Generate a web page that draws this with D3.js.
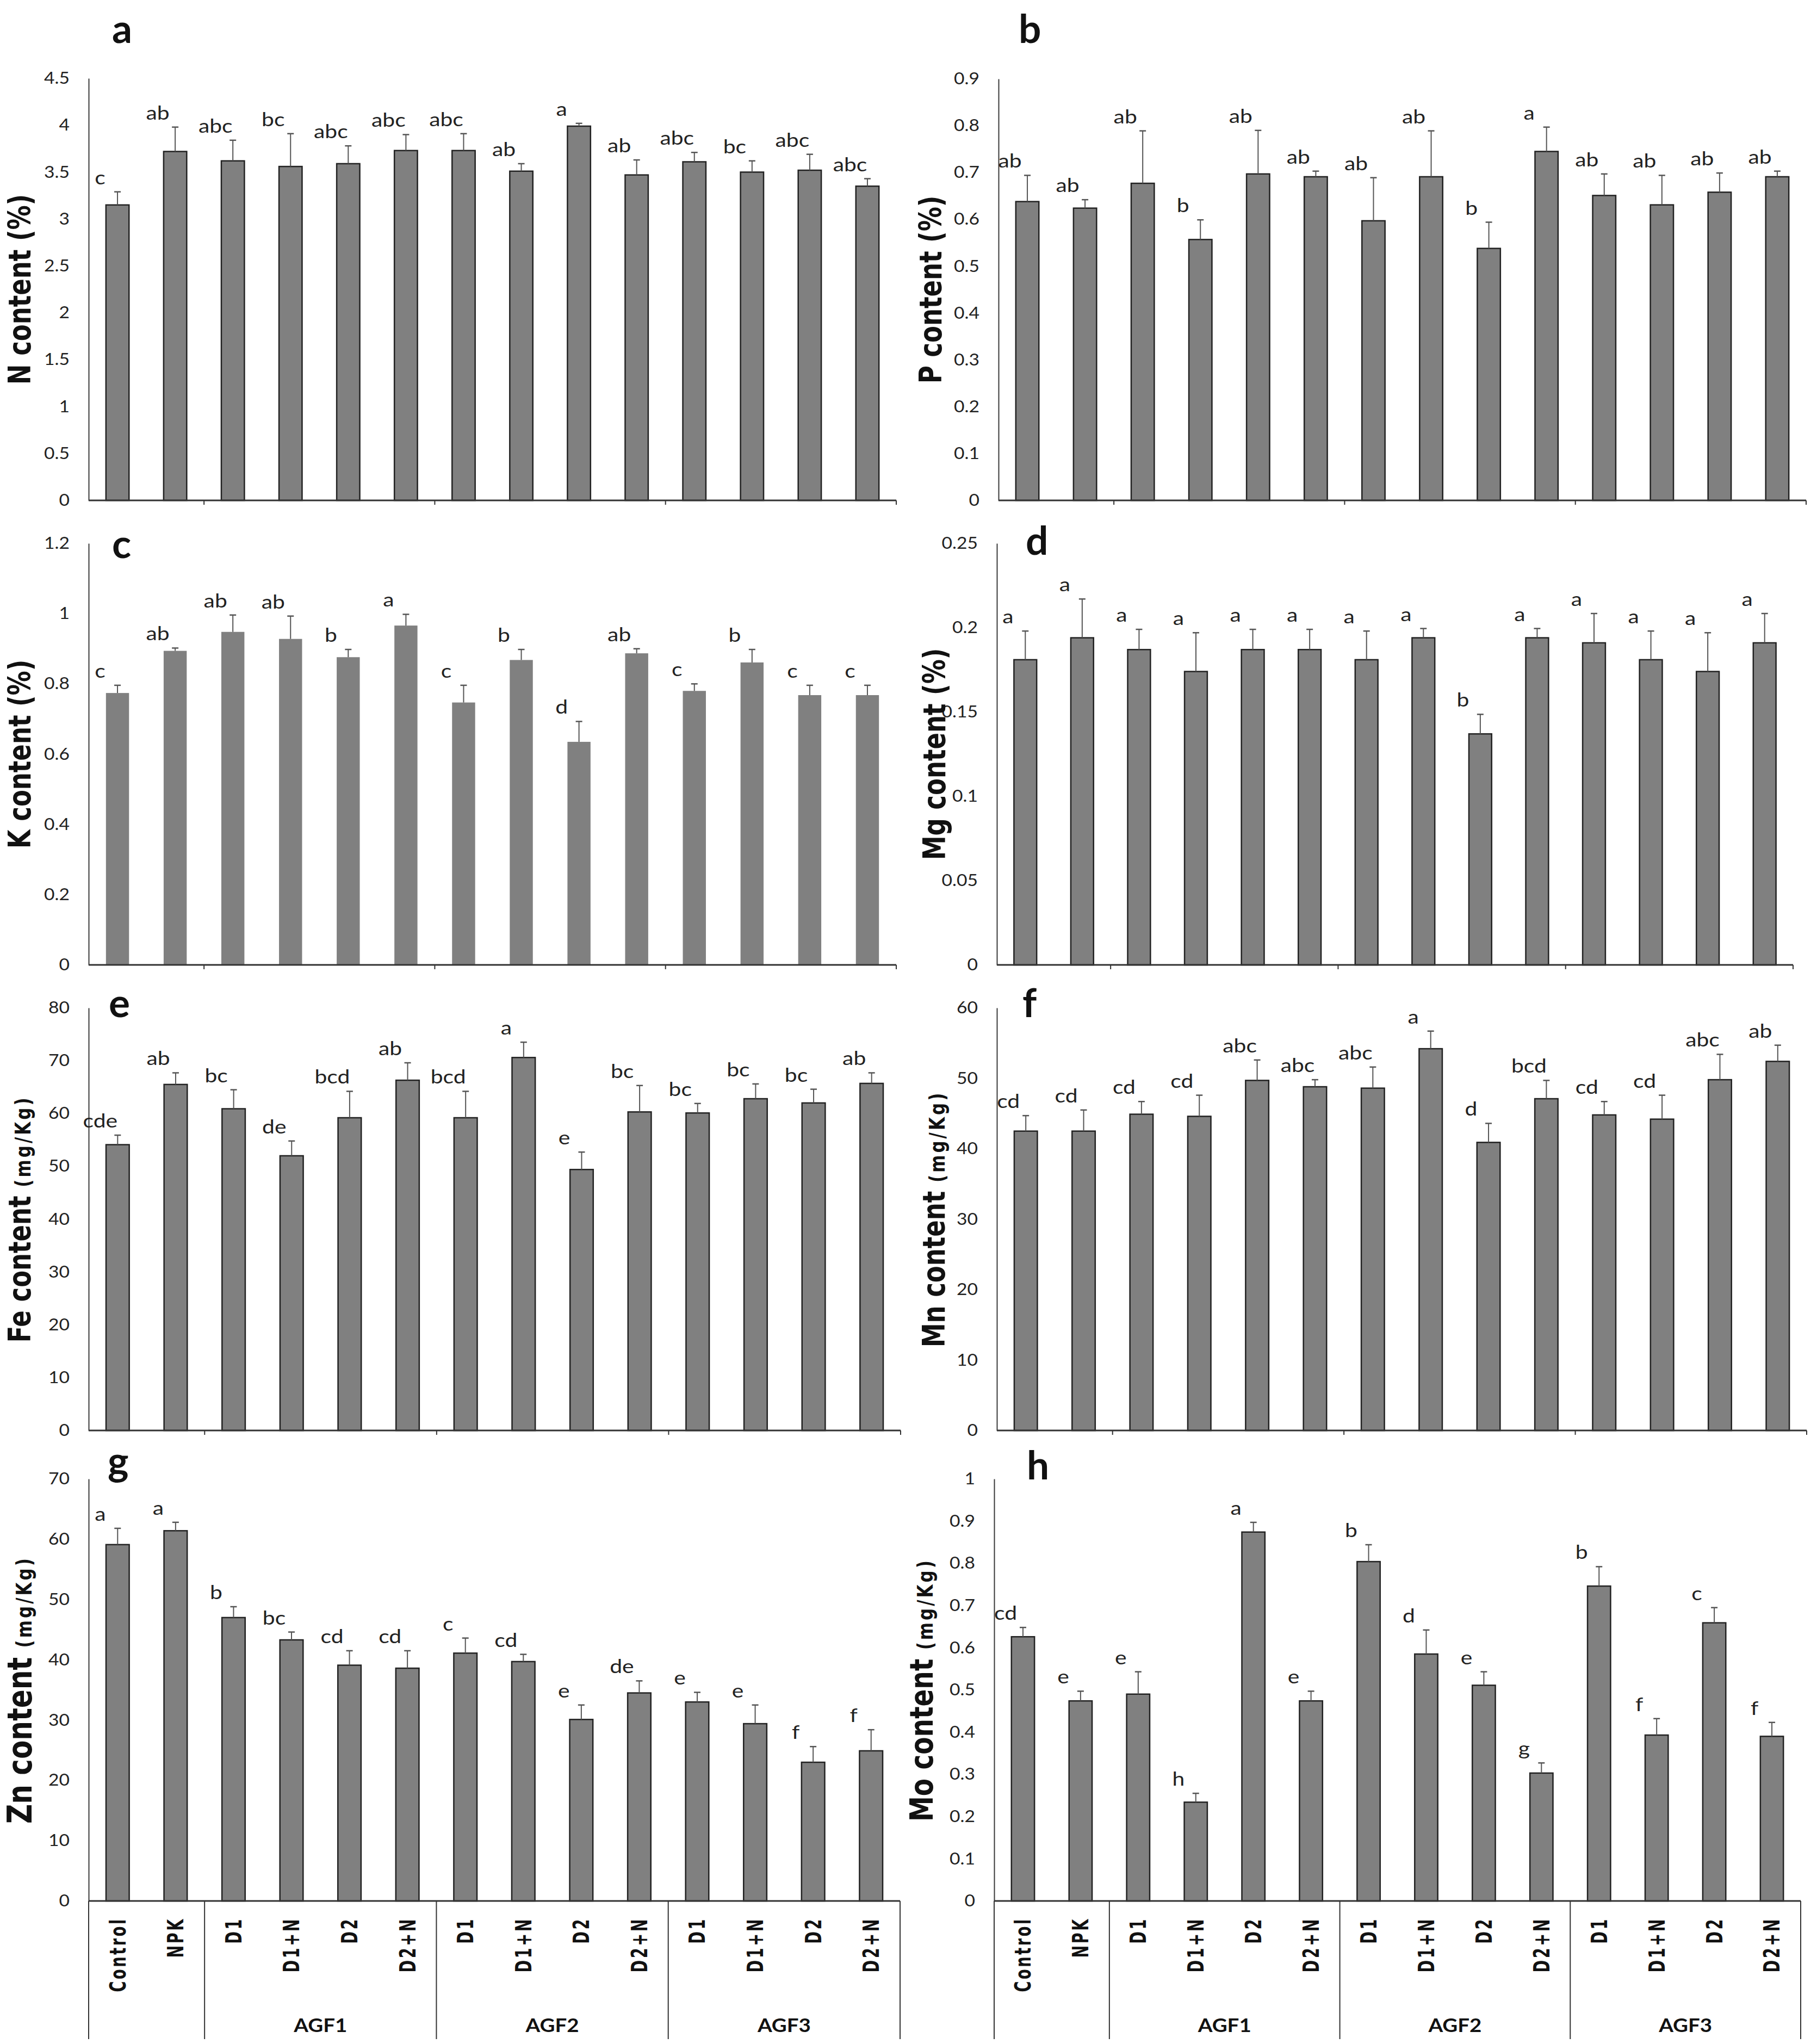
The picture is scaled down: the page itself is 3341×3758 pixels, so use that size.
<!DOCTYPE html>
<html>
<head>
<meta charset="utf-8">
<script src="https://cdn.jsdelivr.net/npm/d3@7"></script>
<style>
  body { margin: 0; background: #fff; }
</style>
</head>
<body>
<svg id="fig" width="3341" height="3758"></svg>
<script>
// treatments along the x axis
var categories = ['Control','NPK','D1','D1+N','D2','D2+N','D1','D1+N','D2','D2+N','D1','D1+N','D2','D2+N'];
var groupNames = ['AGF1','AGF2','AGF3'];
var groupStart = [2, 6, 10];
var groupEnd = [6, 10, 14];

// a - N
var nMean = [3.15,3.72,3.62,3.56,3.59,3.73,3.73,3.51,3.99,3.47,3.61,3.50,3.52,3.35];
var nErr = [0.14,0.26,0.22,0.35,0.19,0.17,0.18,0.08,0.03,0.16,0.10,0.12,0.17,0.08];
var nLetters = ['c','ab','abc','bc','abc','abc','abc','ab','a','ab','abc','bc','abc','abc'];
var nTicks = [0,0.5,1,1.5,2,2.5,3,3.5,4,4.5];

// b - P
var pMean = [0.638,0.624,0.677,0.557,0.697,0.691,0.597,0.691,0.538,0.745,0.651,0.631,0.658,0.691];
var pErr = [0.056,0.018,0.112,0.042,0.093,0.012,0.092,0.098,0.056,0.052,0.046,0.063,0.041,0.012];
var pLetters = ['ab','ab','ab','b','ab','ab','ab','ab','b','a','ab','ab','ab','ab'];
var pTicks = [0,0.1,0.2,0.3,0.4,0.5,0.6,0.7,0.8,0.9];

// c - K
var kMean = [0.774,0.894,0.948,0.928,0.876,0.966,0.747,0.868,0.635,0.887,0.780,0.861,0.768,0.768];
var kErr = [0.022,0.008,0.048,0.065,0.022,0.032,0.049,0.030,0.058,0.013,0.020,0.037,0.028,0.028];
var kLetters = ['c','ab','ab','ab','b','a','c','b','d','ab','c','b','c','c'];
var kTicks = [0,0.2,0.4,0.6,0.8,1,1.2];

// d - Mg
var mgMean = [0.181,0.194,0.187,0.174,0.187,0.187,0.181,0.194,0.137,0.194,0.191,0.181,0.174,0.191];
var mgErr = [0.017,0.023,0.012,0.023,0.012,0.012,0.017,0.0055,0.0116,0.0055,0.0174,0.017,0.023,0.0174];
var mgLetters = ['a','a','a','a','a','a','a','a','b','a','a','a','a','a'];
var mgTicks = [0,0.05,0.1,0.15,0.2,0.25];

// e - Fe
var feMean = [54.1,65.5,60.9,52.0,59.2,66.3,59.2,70.6,49.4,60.3,60.1,62.8,62.0,65.7];
var feErr = [1.8,2.2,3.6,2.8,5.0,3.3,5.0,2.9,3.3,5.0,1.8,2.8,2.6,2.0];
var feLetters = ['cde','ab','bc','de','bcd','ab','bcd','a','e','bc','bc','bc','bc','ab'];
var feTicks = [0,10,20,30,40,50,60,70,80];

// f - Mn
var mnMean = [42.5,42.5,44.9,44.6,49.7,48.8,48.6,54.2,40.9,47.1,44.8,44.2,49.8,52.4];
var mnErr = [2.2,3.0,1.8,3.0,2.9,1.0,3.0,2.5,2.7,2.6,1.9,3.4,3.6,2.3];
var mnLetters = ['cd','cd','cd','cd','abc','abc','abc','a','d','bcd','cd','cd','abc','ab'];
var mnTicks = [0,10,20,30,40,50,60];

// g - Zn
var znMean = [59.1,61.4,47.0,43.3,39.1,38.6,41.1,39.7,30.1,34.5,33.0,29.4,23.0,24.9];
var znErr = [2.7,1.4,1.8,1.3,2.4,2.9,2.5,1.2,2.4,2.0,1.6,3.1,2.6,3.5];
var znLetters = ['a','a','b','bc','cd','cd','c','cd','e','de','e','e','f','f'];
var znTicks = [0,10,20,30,40,50,60,70];

// h - Mo
var moMean = [0.626,0.474,0.490,0.234,0.874,0.474,0.804,0.585,0.511,0.303,0.746,0.393,0.659,0.390];
var moErr = [0.022,0.023,0.053,0.021,0.023,0.023,0.040,0.057,0.032,0.024,0.046,0.039,0.036,0.033];
var moLetters = ['cd','e','e','h','a','e','b','d','e','g','b','f','c','f'];
var moTicks = [0,0.1,0.2,0.3,0.4,0.5,0.6,0.7,0.8,0.9,1];

// panel layout (pixels)
var panels = [
  {tag:'a', mean:nMean, err:nErr, letters:nLetters, ticks:nTicks, title:'N content', unit:'(%)', unitSmall:false,
   x0:163, x1:1648, top:144, zero:920, titleX:56, titleSize:45, tagX:206, tagY:79, outline:true, cats:false},
  {tag:'b', mean:pMean, err:pErr, letters:pLetters, ticks:pTicks, title:'P content', unit:'(%)', unitSmall:false,
   x0:1836, x1:3321, top:145, zero:920, titleX:1731, titleSize:45, tagX:1873, tagY:79, outline:true, cats:false},
  {tag:'c', mean:kMean, err:kErr, letters:kLetters, ticks:kTicks, title:'K content', unit:'(%)', unitSmall:false,
   x0:163, x1:1648, top:999, zero:1774, titleX:56, titleSize:45, tagX:206, tagY:1026, outline:false, cats:false},
  {tag:'d', mean:mgMean, err:mgErr, letters:mgLetters, ticks:mgTicks, title:'Mg content', unit:'(%)', unitSmall:false,
   x0:1833, x1:3297, top:999, zero:1774, titleX:1738, titleSize:45, tagX:1886, tagY:1020, outline:true, cats:false},
  {tag:'e', mean:feMean, err:feErr, letters:feLetters, ticks:feTicks, title:'Fe content', unit:'(mg/Kg)', unitSmall:true,
   x0:163, x1:1656, top:1853, zero:2630, titleX:56, titleSize:45, tagX:200, tagY:1870, outline:true, cats:false},
  {tag:'f', mean:mnMean, err:mnErr, letters:mnLetters, ticks:mnTicks, title:'Mn content', unit:'(mg/Kg)', unitSmall:true,
   x0:1833, x1:3322, top:1853, zero:2630, titleX:1737, titleSize:45, tagX:1880, tagY:1870, outline:true, cats:false},
  {tag:'g', mean:znMean, err:znErr, letters:znLetters, ticks:znTicks, title:'Zn content', unit:'(mg/Kg)', unitSmall:true,
   x0:163, x1:1655, top:2719, zero:3495, titleX:58, titleSize:50, tagX:198, tagY:2712, outline:true, cats:true},
  {tag:'h', mean:moMean, err:moErr, letters:moLetters, ticks:moTicks, title:'Mo content', unit:'(mg/Kg)', unitSmall:true,
   x0:1828, x1:3311, top:2719, zero:3495, titleX:1715, titleSize:47, tagX:1888, tagY:2720, outline:true, cats:true}
];

var catTop = 3525;     // upper end of the rotated category labels
var sepBottom = 3749;  // bottom of group separator lines
var groupBaseline = 3736;

var svg = d3.select('#fig');

panels.forEach(function(p) {
  var g = svg.append('g').attr('class', 'panel-' + p.tag);
  var idx = d3.range(categories.length);

  var xs = d3.scaleBand().domain(idx).range([p.x0, p.x1]).paddingInner(0.6).paddingOuter(0.3);
  var ys = d3.scaleLinear().domain([0, p.ticks[p.ticks.length - 1]]).range([p.zero, p.top]);
  var step = xs.step();
  var boundary = function(k) { return p.x0 + step * k; };
  var cx = function(i) { return xs(i) + xs.bandwidth() / 2; };

  // y axis
  var yAxis = d3.axisLeft(ys).tickValues(p.ticks).tickSize(0).tickSizeOuter(0)
      .tickPadding(35 / 1.12).tickFormat(function(d) { return String(d); });
  var ya = g.append('g').attr('transform', 'translate(' + p.x0 + ',0)').call(yAxis);
  ya.select('.domain').attr('stroke', '#3a3a3a').attr('stroke-width', 2);
  ya.selectAll('text')
      .attr('font-family', 'Lato, "Open Sans", sans-serif')
      .attr('font-size', 30)
      .attr('fill', '#222')
      .attr('transform', 'scale(1.12,1)');

  // bars
  g.selectAll('rect.bar')
    .data(p.mean)
    .enter()
    .append('rect')
      .attr('class', 'bar')
      .attr('x', function(d, i) { return xs(i); })
      .attr('width', xs.bandwidth())
      .attr('y', function(d) { return ys(d); })
      .attr('height', function(d) { return ys(0) - ys(d); })
      .attr('fill', '#808080')
      .attr('stroke', p.outline ? '#222' : 'none')
      .attr('stroke-width', 2.5);

  // error bars (upper only)
  var eb = g.selectAll('g.err').data(p.mean).enter().append('g').attr('class', 'err');
  eb.append('line')
      .attr('x1', function(d, i) { return cx(i); })
      .attr('x2', function(d, i) { return cx(i); })
      .attr('y1', function(d) { return ys(d); })
      .attr('y2', function(d, i) { return ys(d + p.err[i]); })
      .attr('stroke', '#555').attr('stroke-width', 2);
  eb.append('line')
      .attr('x1', function(d, i) { return cx(i) - 6; })
      .attr('x2', function(d, i) { return cx(i) + 6; })
      .attr('y1', function(d, i) { return ys(d + p.err[i]); })
      .attr('y2', function(d, i) { return ys(d + p.err[i]); })
      .attr('stroke', '#555').attr('stroke-width', 2.5);

  // significance letters
  g.selectAll('text.sig')
    .data(p.letters)
    .enter()
    .append('text')
      .attr('class', 'sig')
      .attr('transform', function(d, i) {
        return 'translate(' + (cx(i) - 32) + ',' + (ys(p.mean[i] + p.err[i]) - 14) + ') scale(1.2,1)';
      })
      .attr('text-anchor', 'middle')
      .attr('font-family', 'Lato, "Open Sans", sans-serif')
      .attr('font-size', 34)
      .attr('fill', '#222')
      .text(function(d) { return d; });

  // x axis line
  g.append('line')
      .attr('x1', p.x0).attr('x2', p.x1)
      .attr('y1', ys(0)).attr('y2', ys(0))
      .attr('stroke', '#333').attr('stroke-width', 3);

  var seps = [0].concat(groupStart).concat([categories.length]);
  if (p.cats) {
    g.selectAll('line.sep')
      .data(seps)
      .enter()
      .append('line')
        .attr('class', 'sep')
        .attr('x1', function(k) { return boundary(k); })
        .attr('x2', function(k) { return boundary(k); })
        .attr('y1', ys(0)).attr('y2', sepBottom)
        .attr('stroke', '#333').attr('stroke-width', 2);

    // treatment names
    g.selectAll('text.cat')
      .data(categories)
      .enter()
      .append('text')
        .attr('class', 'cat')
        .attr('transform', function(d, i) {
          return 'translate(' + cx(i) + ',' + catTop + ') rotate(-90) scale(0.68,1)';
        })
        .attr('dy', '0.36em')
        .attr('text-anchor', 'end')
        .attr('font-family', '"DejaVu Sans", Verdana, sans-serif')
        .attr('font-weight', 'bold')
        .attr('font-size', 40)
        .style('letter-spacing', '5.3px')
        .attr('fill', '#111')
        .text(function(d) { return d; });

    // group names
    g.selectAll('text.grp')
      .data(groupNames)
      .enter()
      .append('text')
        .attr('class', 'grp')
        .attr('transform', function(d, k) {
          var mx = (boundary(groupStart[k]) + boundary(groupEnd[k])) / 2;
          return 'translate(' + mx + ',' + groupBaseline + ') scale(1.1,1)';
        })
        .attr('text-anchor', 'middle')
        .attr('font-family', 'Lato, "Open Sans", sans-serif')
        .attr('font-weight', 'bold')
        .attr('font-size', 35)
        .attr('fill', '#111')
        .text(function(d) { return d; });
  } else {
    g.selectAll('line.tick')
      .data(seps.slice(1))
      .enter()
      .append('line')
        .attr('class', 'tick')
        .attr('x1', function(k) { return boundary(k); })
        .attr('x2', function(k) { return boundary(k); })
        .attr('y1', ys(0)).attr('y2', ys(0) + 8)
        .attr('stroke', '#333').attr('stroke-width', 2);
  }

  // y title
  var cy = (p.top + p.zero) / 2;
  var t = g.append('text')
      .attr('transform', 'translate(' + p.titleX + ',' + cy + ') rotate(-90) scale(1,1.25)')
      .attr('text-anchor', 'middle')
      .attr('font-family', '"DejaVu Sans", Verdana, sans-serif')
      .attr('font-weight', 'bold')
      .attr('font-size', p.titleSize)
      .attr('fill', '#111');
  t.append('tspan').text(p.title + ' ');
  var u = t.append('tspan').text(p.unit);
  if (p.unitSmall) {
    u.attr('font-size', 31).style('letter-spacing', '4px');
  }

  // panel tag
  g.append('text')
      .attr('x', p.tagX).attr('y', p.tagY)
      .attr('font-family', 'Lato, "Open Sans", sans-serif')
      .attr('font-weight', 'bold')
      .attr('font-size', 73)
      .attr('fill', '#111')
      .text(p.tag);
});
</script>
</body>
</html>
